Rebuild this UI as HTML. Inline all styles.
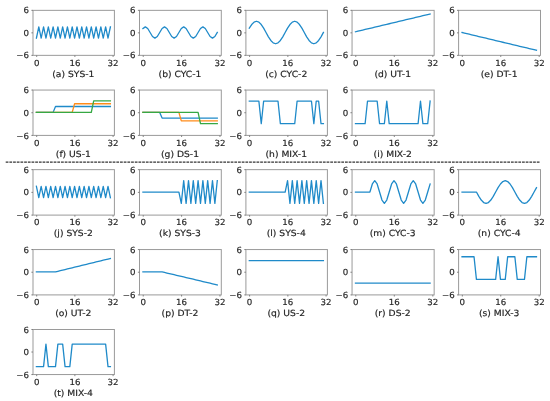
<!DOCTYPE html>
<html><head><meta charset="utf-8"><style>
html,body{margin:0;padding:0;background:#fff;}
svg{display:block;}
text{text-rendering:geometricPrecision;font-family:"DejaVu Sans","Liberation Sans",sans-serif;fill:#262626;stroke:#262626;stroke-width:0.18px;}
.xl{font-size:8.4px;text-anchor:middle;}
.yl{font-size:8.4px;text-anchor:end;}
.cap{font-size:8.5px;text-anchor:middle;}
.sp{fill:none;stroke:#9a9a9a;stroke-width:1.0;}
.tk{fill:none;stroke:#777;stroke-width:0.9;}
polyline{fill:none;stroke-width:1.3;stroke-linejoin:round;stroke-linecap:square;}
.dash{stroke:#333;stroke-width:1.3;stroke-dasharray:2.75 0.938;}
</style></head><body>
<svg width="550" height="401" viewBox="0 0 550 401">
<polyline points="36.4,38.12 38.79,26.88 41.17,38.12 43.56,26.88 45.95,38.12 48.34,26.88 50.72,38.12 53.11,26.88 55.5,38.12 57.88,26.88 60.27,38.12 62.66,26.88 65.05,38.12 67.43,26.88 69.82,38.12 72.21,26.88 74.59,38.12 76.98,26.88 79.37,38.12 81.75,26.88 84.14,38.12 86.53,26.88 88.92,38.12 91.3,26.88 93.69,38.12 96.08,26.88 98.46,38.12 100.85,26.88 103.24,38.12 105.63,26.88 108.01,38.12 110.4,26.88" stroke="#1f8ac9"/>
<rect x="33" y="10.35" width="81.4" height="45" class="sp"/>
<path d="M36.7 55.35v1.6M74.89 55.35v1.6M113.09 55.35v1.6M33 55.35h-1.6M33 32.85h-1.6M33 10.35h-1.6" class="tk"/>
<text transform="matrix(1.03,0,0,1,36.7,65.65)" class="xl">0</text>
<text transform="matrix(1.03,0,0,1,74.89,65.65)" class="xl">16</text>
<text transform="matrix(1.03,0,0,1,113.09,65.65)" class="xl">32</text>
<text transform="matrix(1.03,0,0,1,29.1,58.45)" class="yl">−6</text>
<text transform="matrix(1.03,0,0,1,29.1,35.95)" class="yl">0</text>
<text transform="matrix(1.03,0,0,1,29.1,13.45)" class="yl">6</text>
<text transform="matrix(1.08,0,0,1,73.3,76.55)" class="cap">(a) SYS-1</text>
<polyline points="142.92,28.52 145.32,26.88 147.72,28.52 150.11,32.5 152.51,36.48 154.91,38.12 157.31,36.48 159.71,32.5 162.11,28.52 164.51,26.88 166.91,28.52 169.31,32.5 171.7,36.48 174.1,38.12 176.5,36.48 178.9,32.5 181.3,28.52 183.7,26.88 186.1,28.52 188.5,32.5 190.89,36.48 193.29,38.12 195.69,36.48 198.09,32.5 200.49,28.52 202.89,26.88 205.29,28.52 207.69,32.5 210.09,36.48 212.48,38.12 214.88,36.48 217.28,32.5" stroke="#1f8ac9"/>
<rect x="139.5" y="10.35" width="81.8" height="45" class="sp"/>
<path d="M143.22 55.35v1.6M181.6 55.35v1.6M219.98 55.35v1.6M139.5 55.35h-1.6M139.5 32.85h-1.6M139.5 10.35h-1.6" class="tk"/>
<text transform="matrix(1.03,0,0,1,143.22,65.65)" class="xl">0</text>
<text transform="matrix(1.03,0,0,1,181.6,65.65)" class="xl">16</text>
<text transform="matrix(1.03,0,0,1,219.98,65.65)" class="xl">32</text>
<text transform="matrix(1.03,0,0,1,135.6,58.45)" class="yl">−6</text>
<text transform="matrix(1.03,0,0,1,135.6,35.95)" class="yl">0</text>
<text transform="matrix(1.03,0,0,1,135.6,13.45)" class="yl">6</text>
<text transform="matrix(1.08,0,0,1,180,76.55)" class="cap">(b) CYC-1</text>
<polyline points="249.3,28.19 251.69,24.55 254.08,22.11 256.47,21.25 258.86,22.11 261.25,24.55 263.64,28.19 266.03,32.5 268.42,36.81 270.81,40.45 273.2,42.89 275.59,43.75 277.98,42.89 280.37,40.45 282.76,36.81 285.15,32.5 287.55,28.19 289.94,24.55 292.33,22.11 294.72,21.25 297.11,22.11 299.5,24.55 301.89,28.19 304.28,32.5 306.67,36.81 309.06,40.45 311.45,42.89 313.84,43.75 316.23,42.89 318.62,40.45 321.01,36.81 323.4,32.5" stroke="#1f8ac9"/>
<rect x="245.9" y="10.35" width="81.5" height="45" class="sp"/>
<path d="M249.6 55.35v1.6M287.85 55.35v1.6M326.09 55.35v1.6M245.9 55.35h-1.6M245.9 32.85h-1.6M245.9 10.35h-1.6" class="tk"/>
<text transform="matrix(1.03,0,0,1,249.6,65.65)" class="xl">0</text>
<text transform="matrix(1.03,0,0,1,287.85,65.65)" class="xl">16</text>
<text transform="matrix(1.03,0,0,1,326.09,65.65)" class="xl">32</text>
<text transform="matrix(1.03,0,0,1,242,58.45)" class="yl">−6</text>
<text transform="matrix(1.03,0,0,1,242,35.95)" class="yl">0</text>
<text transform="matrix(1.03,0,0,1,242,13.45)" class="yl">6</text>
<text transform="matrix(1.08,0,0,1,286.25,76.55)" class="cap">(c) CYC-2</text>
<polyline points="355.48,31.79 357.89,31.21 360.3,30.64 362.7,30.07 365.11,29.49 367.52,28.92 369.93,28.34 372.34,27.77 374.74,27.2 377.15,26.62 379.56,26.05 381.97,25.48 384.37,24.9 386.78,24.33 389.19,23.75 391.6,23.18 394,22.61 396.41,22.03 398.82,21.46 401.23,20.89 403.63,20.31 406.04,19.74 408.45,19.16 410.86,18.59 413.26,18.02 415.67,17.44 418.08,16.87 420.49,16.3 422.9,15.72 425.3,15.15 427.71,14.57 430.12,14" stroke="#1f8ac9"/>
<rect x="352.05" y="10.35" width="82.1" height="45" class="sp"/>
<path d="M355.78 55.35v1.6M394.3 55.35v1.6M432.83 55.35v1.6M352.05 55.35h-1.6M352.05 32.85h-1.6M352.05 10.35h-1.6" class="tk"/>
<text transform="matrix(1.03,0,0,1,355.78,65.65)" class="xl">0</text>
<text transform="matrix(1.03,0,0,1,394.3,65.65)" class="xl">16</text>
<text transform="matrix(1.03,0,0,1,432.83,65.65)" class="xl">32</text>
<text transform="matrix(1.03,0,0,1,348.15,58.45)" class="yl">−6</text>
<text transform="matrix(1.03,0,0,1,348.15,35.95)" class="yl">0</text>
<text transform="matrix(1.03,0,0,1,348.15,13.45)" class="yl">6</text>
<text transform="matrix(1.08,0,0,1,392.7,76.55)" class="cap">(d) UT-1</text>
<polyline points="462.02,32.5 464.42,33.07 466.83,33.65 469.23,34.22 471.63,34.8 474.03,35.37 476.43,35.94 478.84,36.52 481.24,37.09 483.64,37.66 486.04,38.24 488.44,38.81 490.84,39.38 493.25,39.96 495.65,40.53 498.05,41.11 500.45,41.68 502.85,42.25 505.25,42.83 507.66,43.4 510.06,43.98 512.46,44.55 514.86,45.12 517.26,45.7 519.66,46.27 522.07,46.84 524.47,47.42 526.87,47.99 529.27,48.56 531.67,49.14 534.08,49.71 536.48,50.29" stroke="#1f8ac9"/>
<rect x="458.6" y="10.35" width="81.9" height="45" class="sp"/>
<path d="M462.32 55.35v1.6M500.75 55.35v1.6M539.18 55.35v1.6M458.6 55.35h-1.6M458.6 32.85h-1.6M458.6 10.35h-1.6" class="tk"/>
<text transform="matrix(1.03,0,0,1,462.32,65.65)" class="xl">0</text>
<text transform="matrix(1.03,0,0,1,500.75,65.65)" class="xl">16</text>
<text transform="matrix(1.03,0,0,1,539.18,65.65)" class="xl">32</text>
<text transform="matrix(1.03,0,0,1,454.7,58.45)" class="yl">−6</text>
<text transform="matrix(1.03,0,0,1,454.7,35.95)" class="yl">0</text>
<text transform="matrix(1.03,0,0,1,454.7,13.45)" class="yl">6</text>
<text transform="matrix(1.08,0,0,1,499.15,76.55)" class="cap">(e) DT-1</text>
<polyline points="36.4,112.38 38.79,112.38 41.17,112.38 43.56,112.38 45.95,112.38 48.34,112.38 50.72,112.38 53.11,112.38 55.5,106.48 57.88,106.48 60.27,106.48 62.66,106.48 65.05,106.48 67.43,106.48 69.82,106.48 72.21,106.48 74.59,106.48 76.98,106.48 79.37,106.48 81.75,106.48 84.14,106.48 86.53,106.48 88.92,106.48 91.3,106.48 93.69,106.48 96.08,106.48 98.46,106.48 100.85,106.48 103.24,106.48 105.63,106.48 108.01,106.48 110.4,106.48" stroke="#1f8ac9"/>
<polyline points="36.4,112.38 38.79,112.38 41.17,112.38 43.56,112.38 45.95,112.38 48.34,112.38 50.72,112.38 53.11,112.38 55.5,112.38 57.88,112.38 60.27,112.38 62.66,112.38 65.05,112.38 67.43,112.38 69.82,112.38 72.21,112.38 74.59,103.76 76.98,103.76 79.37,103.76 81.75,103.76 84.14,103.76 86.53,103.76 88.92,103.76 91.3,103.76 93.69,103.76 96.08,103.76 98.46,103.76 100.85,103.76 103.24,103.76 105.63,103.76 108.01,103.76 110.4,103.76" stroke="#ff8c1a"/>
<polyline points="36.4,112.38 38.79,112.38 41.17,112.38 43.56,112.38 45.95,112.38 48.34,112.38 50.72,112.38 53.11,112.38 55.5,112.38 57.88,112.38 60.27,112.38 62.66,112.38 65.05,112.38 67.43,112.38 69.82,112.38 72.21,112.38 74.59,112.38 76.98,112.38 79.37,112.38 81.75,112.38 84.14,112.38 86.53,112.38 88.92,112.38 91.3,112.38 93.69,100.81 96.08,100.81 98.46,100.81 100.85,100.81 103.24,100.81 105.63,100.81 108.01,100.81 110.4,100.81" stroke="#36a843"/>
<rect x="33" y="90.05" width="81.4" height="45.35" class="sp"/>
<path d="M36.7 135.4v1.6M74.89 135.4v1.6M113.09 135.4v1.6M33 135.4h-1.6M33 112.72h-1.6M33 90.05h-1.6" class="tk"/>
<text transform="matrix(1.03,0,0,1,36.7,145.7)" class="xl">0</text>
<text transform="matrix(1.03,0,0,1,74.89,145.7)" class="xl">16</text>
<text transform="matrix(1.03,0,0,1,113.09,145.7)" class="xl">32</text>
<text transform="matrix(1.03,0,0,1,29.1,138.5)" class="yl">−6</text>
<text transform="matrix(1.03,0,0,1,29.1,115.82)" class="yl">0</text>
<text transform="matrix(1.03,0,0,1,29.1,93.15)" class="yl">6</text>
<text transform="matrix(1.08,0,0,1,73.3,156.6)" class="cap">(f) US-1</text>
<polyline points="142.92,112.38 145.32,112.38 147.72,112.38 150.11,112.38 152.51,112.38 154.91,112.38 157.31,112.38 159.71,112.38 162.11,118.04 164.51,118.04 166.91,118.04 169.31,118.04 171.7,118.04 174.1,118.04 176.5,118.04 178.9,118.04 181.3,118.04 183.7,118.04 186.1,118.04 188.5,118.04 190.89,118.04 193.29,118.04 195.69,118.04 198.09,118.04 200.49,118.04 202.89,118.04 205.29,118.04 207.69,118.04 210.09,118.04 212.48,118.04 214.88,118.04 217.28,118.04" stroke="#1f8ac9"/>
<polyline points="142.92,112.38 145.32,112.38 147.72,112.38 150.11,112.38 152.51,112.38 154.91,112.38 157.31,112.38 159.71,112.38 162.11,112.38 164.51,112.38 166.91,112.38 169.31,112.38 171.7,112.38 174.1,112.38 176.5,112.38 178.9,112.38 181.3,120.88 183.7,120.88 186.1,120.88 188.5,120.88 190.89,120.88 193.29,120.88 195.69,120.88 198.09,120.88 200.49,120.88 202.89,120.88 205.29,120.88 207.69,120.88 210.09,120.88 212.48,120.88 214.88,120.88 217.28,120.88" stroke="#ff8c1a"/>
<polyline points="142.92,112.38 145.32,112.38 147.72,112.38 150.11,112.38 152.51,112.38 154.91,112.38 157.31,112.38 159.71,112.38 162.11,112.38 164.51,112.38 166.91,112.38 169.31,112.38 171.7,112.38 174.1,112.38 176.5,112.38 178.9,112.38 181.3,112.38 183.7,112.38 186.1,112.38 188.5,112.38 190.89,112.38 193.29,112.38 195.69,112.38 198.09,112.38 200.49,123.71 202.89,123.71 205.29,123.71 207.69,123.71 210.09,123.71 212.48,123.71 214.88,123.71 217.28,123.71" stroke="#36a843"/>
<rect x="139.5" y="90.05" width="81.8" height="45.35" class="sp"/>
<path d="M143.22 135.4v1.6M181.6 135.4v1.6M219.98 135.4v1.6M139.5 135.4h-1.6M139.5 112.72h-1.6M139.5 90.05h-1.6" class="tk"/>
<text transform="matrix(1.03,0,0,1,143.22,145.7)" class="xl">0</text>
<text transform="matrix(1.03,0,0,1,181.6,145.7)" class="xl">16</text>
<text transform="matrix(1.03,0,0,1,219.98,145.7)" class="xl">32</text>
<text transform="matrix(1.03,0,0,1,135.6,138.5)" class="yl">−6</text>
<text transform="matrix(1.03,0,0,1,135.6,115.82)" class="yl">0</text>
<text transform="matrix(1.03,0,0,1,135.6,93.15)" class="yl">6</text>
<text transform="matrix(1.08,0,0,1,180,156.6)" class="cap">(g) DS-1</text>
<polyline points="249.3,101.04 251.69,101.04 254.08,101.04 256.47,101.04 258.86,101.04 261.25,123.71 263.64,101.04 266.03,101.04 268.42,101.04 270.81,101.04 273.2,101.04 275.59,101.04 277.98,101.04 280.37,123.71 282.76,123.71 285.15,123.71 287.55,123.71 289.94,123.71 292.33,123.71 294.72,123.71 297.11,101.04 299.5,101.04 301.89,101.04 304.28,101.04 306.67,101.04 309.06,101.04 311.45,101.04 313.84,123.71 316.23,101.04 318.62,101.04 321.01,123.71 323.4,123.71" stroke="#1f8ac9"/>
<rect x="245.9" y="90.05" width="81.5" height="45.35" class="sp"/>
<path d="M249.6 135.4v1.6M287.85 135.4v1.6M326.09 135.4v1.6M245.9 135.4h-1.6M245.9 112.72h-1.6M245.9 90.05h-1.6" class="tk"/>
<text transform="matrix(1.03,0,0,1,249.6,145.7)" class="xl">0</text>
<text transform="matrix(1.03,0,0,1,287.85,145.7)" class="xl">16</text>
<text transform="matrix(1.03,0,0,1,326.09,145.7)" class="xl">32</text>
<text transform="matrix(1.03,0,0,1,242,138.5)" class="yl">−6</text>
<text transform="matrix(1.03,0,0,1,242,115.82)" class="yl">0</text>
<text transform="matrix(1.03,0,0,1,242,93.15)" class="yl">6</text>
<text transform="matrix(1.08,0,0,1,286.25,156.6)" class="cap">(h) MIX-1</text>
<polyline points="355.48,123.71 357.89,123.71 360.3,123.71 362.7,123.71 365.11,123.71 367.52,101.04 369.93,101.04 372.34,101.04 374.74,101.04 377.15,101.04 379.56,123.71 381.97,123.71 384.37,123.71 386.78,101.04 389.19,123.71 391.6,123.71 394,123.71 396.41,123.71 398.82,123.71 401.23,123.71 403.63,123.71 406.04,123.71 408.45,123.71 410.86,123.71 413.26,123.71 415.67,123.71 418.08,123.71 420.49,101.04 422.9,123.71 425.3,123.71 427.71,123.71 430.12,101.04" stroke="#1f8ac9"/>
<rect x="352.05" y="90.05" width="82.1" height="45.35" class="sp"/>
<path d="M355.78 135.4v1.6M394.3 135.4v1.6M432.83 135.4v1.6M352.05 135.4h-1.6M352.05 112.72h-1.6M352.05 90.05h-1.6" class="tk"/>
<text transform="matrix(1.03,0,0,1,355.78,145.7)" class="xl">0</text>
<text transform="matrix(1.03,0,0,1,394.3,145.7)" class="xl">16</text>
<text transform="matrix(1.03,0,0,1,432.83,145.7)" class="xl">32</text>
<text transform="matrix(1.03,0,0,1,348.15,138.5)" class="yl">−6</text>
<text transform="matrix(1.03,0,0,1,348.15,115.82)" class="yl">0</text>
<text transform="matrix(1.03,0,0,1,348.15,93.15)" class="yl">6</text>
<text transform="matrix(1.08,0,0,1,392.7,156.6)" class="cap">(i) MIX-2</text>
<polyline points="36.4,186.34 38.79,197.71 41.17,186.34 43.56,197.71 45.95,186.34 48.34,197.71 50.72,186.34 53.11,197.71 55.5,186.34 57.88,197.71 60.27,186.34 62.66,197.71 65.05,186.34 67.43,197.71 69.82,186.34 72.21,197.71 74.59,186.34 76.98,197.71 79.37,186.34 81.75,197.71 84.14,186.34 86.53,197.71 88.92,186.34 91.3,197.71 93.69,186.34 96.08,197.71 98.46,186.34 100.85,197.71 103.24,186.34 105.63,197.71 108.01,186.34 110.4,197.71" stroke="#1f8ac9"/>
<rect x="33" y="169.65" width="81.4" height="45.45" class="sp"/>
<path d="M36.7 215.1v1.6M74.89 215.1v1.6M113.09 215.1v1.6M33 215.1h-1.6M33 192.38h-1.6M33 169.65h-1.6" class="tk"/>
<text transform="matrix(1.03,0,0,1,36.7,225.4)" class="xl">0</text>
<text transform="matrix(1.03,0,0,1,74.89,225.4)" class="xl">16</text>
<text transform="matrix(1.03,0,0,1,113.09,225.4)" class="xl">32</text>
<text transform="matrix(1.03,0,0,1,29.1,218.2)" class="yl">−6</text>
<text transform="matrix(1.03,0,0,1,29.1,195.47)" class="yl">0</text>
<text transform="matrix(1.03,0,0,1,29.1,172.75)" class="yl">6</text>
<text transform="matrix(1.08,0,0,1,73.3,236.3)" class="cap">(j) SYS-2</text>
<polyline points="142.92,192.03 145.32,192.03 147.72,192.03 150.11,192.03 152.51,192.03 154.91,192.03 157.31,192.03 159.71,192.03 162.11,192.03 164.51,192.03 166.91,192.03 169.31,192.03 171.7,192.03 174.1,192.03 176.5,192.03 178.9,192.03 181.3,203.39 183.7,180.66 186.1,203.39 188.5,180.66 190.89,203.39 193.29,180.66 195.69,203.39 198.09,180.66 200.49,203.39 202.89,180.66 205.29,203.39 207.69,180.66 210.09,203.39 212.48,180.66 214.88,203.39 217.28,180.66" stroke="#1f8ac9"/>
<rect x="139.5" y="169.65" width="81.8" height="45.45" class="sp"/>
<path d="M143.22 215.1v1.6M181.6 215.1v1.6M219.98 215.1v1.6M139.5 215.1h-1.6M139.5 192.38h-1.6M139.5 169.65h-1.6" class="tk"/>
<text transform="matrix(1.03,0,0,1,143.22,225.4)" class="xl">0</text>
<text transform="matrix(1.03,0,0,1,181.6,225.4)" class="xl">16</text>
<text transform="matrix(1.03,0,0,1,219.98,225.4)" class="xl">32</text>
<text transform="matrix(1.03,0,0,1,135.6,218.2)" class="yl">−6</text>
<text transform="matrix(1.03,0,0,1,135.6,195.47)" class="yl">0</text>
<text transform="matrix(1.03,0,0,1,135.6,172.75)" class="yl">6</text>
<text transform="matrix(1.08,0,0,1,180,236.3)" class="cap">(k) SYS-3</text>
<polyline points="249.3,192.03 251.69,192.03 254.08,192.03 256.47,192.03 258.86,192.03 261.25,192.03 263.64,192.03 266.03,192.03 268.42,192.03 270.81,192.03 273.2,192.03 275.59,192.03 277.98,192.03 280.37,192.03 282.76,192.03 285.15,192.03 287.55,180.66 289.94,203.39 292.33,180.66 294.72,203.39 297.11,180.66 299.5,203.39 301.89,180.66 304.28,203.39 306.67,180.66 309.06,203.39 311.45,180.66 313.84,203.39 316.23,180.66 318.62,203.39 321.01,180.66 323.4,203.39" stroke="#1f8ac9"/>
<rect x="245.9" y="169.65" width="81.5" height="45.45" class="sp"/>
<path d="M249.6 215.1v1.6M287.85 215.1v1.6M326.09 215.1v1.6M245.9 215.1h-1.6M245.9 192.38h-1.6M245.9 169.65h-1.6" class="tk"/>
<text transform="matrix(1.03,0,0,1,249.6,225.4)" class="xl">0</text>
<text transform="matrix(1.03,0,0,1,287.85,225.4)" class="xl">16</text>
<text transform="matrix(1.03,0,0,1,326.09,225.4)" class="xl">32</text>
<text transform="matrix(1.03,0,0,1,242,218.2)" class="yl">−6</text>
<text transform="matrix(1.03,0,0,1,242,195.47)" class="yl">0</text>
<text transform="matrix(1.03,0,0,1,242,172.75)" class="yl">6</text>
<text transform="matrix(1.08,0,0,1,286.25,236.3)" class="cap">(l) SYS-4</text>
<polyline points="355.48,192.03 357.89,192.03 360.3,192.03 362.7,192.03 365.11,192.03 367.52,192.03 369.93,192.03 372.34,183.99 374.74,180.66 377.15,183.99 379.56,192.03 381.97,200.06 384.37,203.39 386.78,200.06 389.19,192.03 391.6,183.99 394,180.66 396.41,183.99 398.82,192.03 401.23,200.06 403.63,203.39 406.04,200.06 408.45,192.03 410.86,183.99 413.26,180.66 415.67,183.99 418.08,192.03 420.49,200.06 422.9,203.39 425.3,200.06 427.71,192.03 430.12,183.99" stroke="#1f8ac9"/>
<rect x="352.05" y="169.65" width="82.1" height="45.45" class="sp"/>
<path d="M355.78 215.1v1.6M394.3 215.1v1.6M432.83 215.1v1.6M352.05 215.1h-1.6M352.05 192.38h-1.6M352.05 169.65h-1.6" class="tk"/>
<text transform="matrix(1.03,0,0,1,355.78,225.4)" class="xl">0</text>
<text transform="matrix(1.03,0,0,1,394.3,225.4)" class="xl">16</text>
<text transform="matrix(1.03,0,0,1,432.83,225.4)" class="xl">32</text>
<text transform="matrix(1.03,0,0,1,348.15,218.2)" class="yl">−6</text>
<text transform="matrix(1.03,0,0,1,348.15,195.47)" class="yl">0</text>
<text transform="matrix(1.03,0,0,1,348.15,172.75)" class="yl">6</text>
<text transform="matrix(1.08,0,0,1,392.7,236.3)" class="cap">(m) CYC-3</text>
<polyline points="462.02,192.03 464.42,192.03 466.83,192.03 469.23,192.03 471.63,192.03 474.03,192.03 476.43,192.03 478.84,196.37 481.24,200.06 483.64,202.52 486.04,203.39 488.44,202.52 490.84,200.06 493.25,196.37 495.65,192.03 498.05,187.68 500.45,183.99 502.85,181.53 505.25,180.66 507.66,181.53 510.06,183.99 512.46,187.68 514.86,192.03 517.26,196.37 519.66,200.06 522.07,202.52 524.47,203.39 526.87,202.52 529.27,200.06 531.67,196.37 534.08,192.03 536.48,187.68" stroke="#1f8ac9"/>
<rect x="458.6" y="169.65" width="81.9" height="45.45" class="sp"/>
<path d="M462.32 215.1v1.6M500.75 215.1v1.6M539.18 215.1v1.6M458.6 215.1h-1.6M458.6 192.38h-1.6M458.6 169.65h-1.6" class="tk"/>
<text transform="matrix(1.03,0,0,1,462.32,225.4)" class="xl">0</text>
<text transform="matrix(1.03,0,0,1,500.75,225.4)" class="xl">16</text>
<text transform="matrix(1.03,0,0,1,539.18,225.4)" class="xl">32</text>
<text transform="matrix(1.03,0,0,1,454.7,218.2)" class="yl">−6</text>
<text transform="matrix(1.03,0,0,1,454.7,195.47)" class="yl">0</text>
<text transform="matrix(1.03,0,0,1,454.7,172.75)" class="yl">6</text>
<text transform="matrix(1.08,0,0,1,499.15,236.3)" class="cap">(n) CYC-4</text>
<polyline points="36.4,271.88 38.79,271.88 41.17,271.88 43.56,271.88 45.95,271.88 48.34,271.88 50.72,271.88 53.11,271.88 55.5,271.88 57.88,271.29 60.27,270.71 62.66,270.13 65.05,269.55 67.43,268.97 69.82,268.38 72.21,267.8 74.59,267.22 76.98,266.64 79.37,266.06 81.75,265.47 84.14,264.89 86.53,264.31 88.92,263.73 91.3,263.15 93.69,262.56 96.08,261.98 98.46,261.4 100.85,260.82 103.24,260.24 105.63,259.65 108.01,259.07 110.4,258.49" stroke="#1f8ac9"/>
<rect x="33" y="249.55" width="81.4" height="45.35" class="sp"/>
<path d="M36.7 294.9v1.6M74.89 294.9v1.6M113.09 294.9v1.6M33 294.9h-1.6M33 272.23h-1.6M33 249.55h-1.6" class="tk"/>
<text transform="matrix(1.03,0,0,1,36.7,305.2)" class="xl">0</text>
<text transform="matrix(1.03,0,0,1,74.89,305.2)" class="xl">16</text>
<text transform="matrix(1.03,0,0,1,113.09,305.2)" class="xl">32</text>
<text transform="matrix(1.03,0,0,1,29.1,298)" class="yl">−6</text>
<text transform="matrix(1.03,0,0,1,29.1,275.33)" class="yl">0</text>
<text transform="matrix(1.03,0,0,1,29.1,252.65)" class="yl">6</text>
<text transform="matrix(1.08,0,0,1,73.3,316.1)" class="cap">(o) UT-2</text>
<polyline points="142.92,271.88 145.32,271.88 147.72,271.88 150.11,271.88 152.51,271.88 154.91,271.88 157.31,271.88 159.71,271.88 162.11,271.88 164.51,272.44 166.91,273.01 169.31,273.58 171.7,274.14 174.1,274.71 176.5,275.28 178.9,275.84 181.3,276.41 183.7,276.98 186.1,277.54 188.5,278.11 190.89,278.68 193.29,279.24 195.69,279.81 198.09,280.38 200.49,280.94 202.89,281.51 205.29,282.08 207.69,282.65 210.09,283.21 212.48,283.78 214.88,284.35 217.28,284.91" stroke="#1f8ac9"/>
<rect x="139.5" y="249.55" width="81.8" height="45.35" class="sp"/>
<path d="M143.22 294.9v1.6M181.6 294.9v1.6M219.98 294.9v1.6M139.5 294.9h-1.6M139.5 272.23h-1.6M139.5 249.55h-1.6" class="tk"/>
<text transform="matrix(1.03,0,0,1,143.22,305.2)" class="xl">0</text>
<text transform="matrix(1.03,0,0,1,181.6,305.2)" class="xl">16</text>
<text transform="matrix(1.03,0,0,1,219.98,305.2)" class="xl">32</text>
<text transform="matrix(1.03,0,0,1,135.6,298)" class="yl">−6</text>
<text transform="matrix(1.03,0,0,1,135.6,275.33)" class="yl">0</text>
<text transform="matrix(1.03,0,0,1,135.6,252.65)" class="yl">6</text>
<text transform="matrix(1.08,0,0,1,180,316.1)" class="cap">(p) DT-2</text>
<polyline points="249.3,260.54 251.69,260.54 254.08,260.54 256.47,260.54 258.86,260.54 261.25,260.54 263.64,260.54 266.03,260.54 268.42,260.54 270.81,260.54 273.2,260.54 275.59,260.54 277.98,260.54 280.37,260.54 282.76,260.54 285.15,260.54 287.55,260.54 289.94,260.54 292.33,260.54 294.72,260.54 297.11,260.54 299.5,260.54 301.89,260.54 304.28,260.54 306.67,260.54 309.06,260.54 311.45,260.54 313.84,260.54 316.23,260.54 318.62,260.54 321.01,260.54 323.4,260.54" stroke="#1f8ac9"/>
<rect x="245.9" y="249.55" width="81.5" height="45.35" class="sp"/>
<path d="M249.6 294.9v1.6M287.85 294.9v1.6M326.09 294.9v1.6M245.9 294.9h-1.6M245.9 272.23h-1.6M245.9 249.55h-1.6" class="tk"/>
<text transform="matrix(1.03,0,0,1,249.6,305.2)" class="xl">0</text>
<text transform="matrix(1.03,0,0,1,287.85,305.2)" class="xl">16</text>
<text transform="matrix(1.03,0,0,1,326.09,305.2)" class="xl">32</text>
<text transform="matrix(1.03,0,0,1,242,298)" class="yl">−6</text>
<text transform="matrix(1.03,0,0,1,242,275.33)" class="yl">0</text>
<text transform="matrix(1.03,0,0,1,242,252.65)" class="yl">6</text>
<text transform="matrix(1.08,0,0,1,286.25,316.1)" class="cap">(q) US-2</text>
<polyline points="355.48,283.21 357.89,283.21 360.3,283.21 362.7,283.21 365.11,283.21 367.52,283.21 369.93,283.21 372.34,283.21 374.74,283.21 377.15,283.21 379.56,283.21 381.97,283.21 384.37,283.21 386.78,283.21 389.19,283.21 391.6,283.21 394,283.21 396.41,283.21 398.82,283.21 401.23,283.21 403.63,283.21 406.04,283.21 408.45,283.21 410.86,283.21 413.26,283.21 415.67,283.21 418.08,283.21 420.49,283.21 422.9,283.21 425.3,283.21 427.71,283.21 430.12,283.21" stroke="#1f8ac9"/>
<rect x="352.05" y="249.55" width="82.1" height="45.35" class="sp"/>
<path d="M355.78 294.9v1.6M394.3 294.9v1.6M432.83 294.9v1.6M352.05 294.9h-1.6M352.05 272.23h-1.6M352.05 249.55h-1.6" class="tk"/>
<text transform="matrix(1.03,0,0,1,355.78,305.2)" class="xl">0</text>
<text transform="matrix(1.03,0,0,1,394.3,305.2)" class="xl">16</text>
<text transform="matrix(1.03,0,0,1,432.83,305.2)" class="xl">32</text>
<text transform="matrix(1.03,0,0,1,348.15,298)" class="yl">−6</text>
<text transform="matrix(1.03,0,0,1,348.15,275.33)" class="yl">0</text>
<text transform="matrix(1.03,0,0,1,348.15,252.65)" class="yl">6</text>
<text transform="matrix(1.08,0,0,1,392.7,316.1)" class="cap">(r) DS-2</text>
<polyline points="462.02,256.76 464.42,256.76 466.83,256.76 469.23,256.76 471.63,256.76 474.03,256.76 476.43,279.43 478.84,279.43 481.24,279.43 483.64,279.43 486.04,279.43 488.44,279.43 490.84,279.43 493.25,279.43 495.65,279.43 498.05,256.76 500.45,279.43 502.85,279.43 505.25,279.43 507.66,256.76 510.06,256.76 512.46,256.76 514.86,256.76 517.26,279.43 519.66,279.43 522.07,279.43 524.47,279.43 526.87,256.76 529.27,256.76 531.67,256.76 534.08,256.76 536.48,256.76" stroke="#1f8ac9"/>
<rect x="458.6" y="249.55" width="81.9" height="45.35" class="sp"/>
<path d="M462.32 294.9v1.6M500.75 294.9v1.6M539.18 294.9v1.6M458.6 294.9h-1.6M458.6 272.23h-1.6M458.6 249.55h-1.6" class="tk"/>
<text transform="matrix(1.03,0,0,1,462.32,305.2)" class="xl">0</text>
<text transform="matrix(1.03,0,0,1,500.75,305.2)" class="xl">16</text>
<text transform="matrix(1.03,0,0,1,539.18,305.2)" class="xl">32</text>
<text transform="matrix(1.03,0,0,1,454.7,298)" class="yl">−6</text>
<text transform="matrix(1.03,0,0,1,454.7,275.33)" class="yl">0</text>
<text transform="matrix(1.03,0,0,1,454.7,252.65)" class="yl">6</text>
<text transform="matrix(1.08,0,0,1,499.15,316.1)" class="cap">(s) MIX-3</text>
<polyline points="36.4,366.69 38.79,366.69 41.17,366.69 43.56,366.69 45.95,344.17 48.34,366.69 50.72,366.69 53.11,366.69 55.5,366.69 57.88,344.17 60.27,344.17 62.66,344.17 65.05,366.69 67.43,366.69 69.82,366.69 72.21,344.17 74.59,344.17 76.98,344.17 79.37,344.17 81.75,344.17 84.14,344.17 86.53,344.17 88.92,344.17 91.3,344.17 93.69,344.17 96.08,344.17 98.46,344.17 100.85,344.17 103.24,344.17 105.63,344.17 108.01,366.69 110.4,366.69" stroke="#1f8ac9"/>
<rect x="33" y="329.5" width="81.4" height="45.05" class="sp"/>
<path d="M36.7 374.55v1.6M74.89 374.55v1.6M113.09 374.55v1.6M33 374.55h-1.6M33 352.02h-1.6M33 329.5h-1.6" class="tk"/>
<text transform="matrix(1.03,0,0,1,36.7,384.85)" class="xl">0</text>
<text transform="matrix(1.03,0,0,1,74.89,384.85)" class="xl">16</text>
<text transform="matrix(1.03,0,0,1,113.09,384.85)" class="xl">32</text>
<text transform="matrix(1.03,0,0,1,29.1,377.65)" class="yl">−6</text>
<text transform="matrix(1.03,0,0,1,29.1,355.12)" class="yl">0</text>
<text transform="matrix(1.03,0,0,1,29.1,332.6)" class="yl">6</text>
<text transform="matrix(1.08,0,0,1,73.3,395.75)" class="cap">(t) MIX-4</text>
<line x1="5.7" y1="162.1" x2="539.6" y2="162.1" class="dash"/>
</svg>
</body></html>
